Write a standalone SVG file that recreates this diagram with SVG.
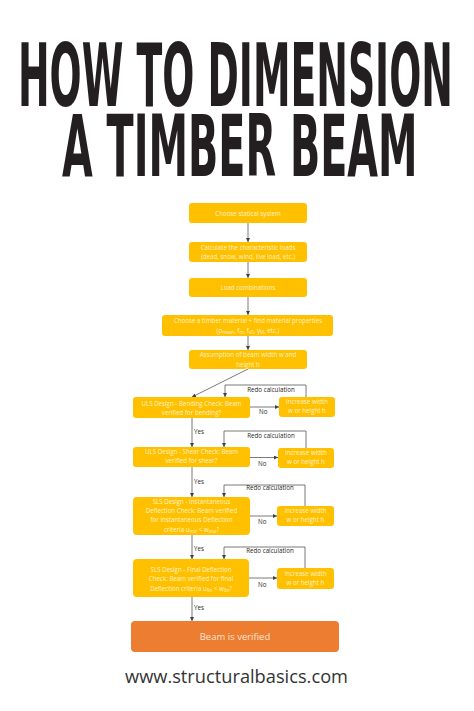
<svg xmlns="http://www.w3.org/2000/svg" width="474" height="711" viewBox="0 0 474 711">
<style>
.box{fill:#FFC000;}
.bt{font-family:"Open Sans","Liberation Sans",sans-serif;font-size:6.2px;fill:#FFF2CC;text-anchor:middle;}
.lbl{font-family:"Open Sans","Liberation Sans",sans-serif;font-size:6.2px;fill:#262626;}
.ln{fill:none;stroke:#595959;stroke-width:0.8;}
.title{font-family:"DejaVu Sans","Liberation Sans",sans-serif;font-weight:bold;fill:#231F20;}
</style>
<defs>
<marker id="ah" viewBox="0 0 6 6" refX="6" refY="3" markerWidth="4" markerHeight="4" orient="auto" markerUnits="userSpaceOnUse">
<path d="M0,0 L6,3 L0,6 z" fill="#404040"/>
</marker>
</defs>
<rect width="474" height="711" fill="#FFFFFF"/>
<g id="title">
<text class="title" transform="translate(18,106) scale(0.434,1)" x="0" y="0" font-size="87" textLength="1002" lengthAdjust="spacingAndGlyphs">HOW TO DIMENSION</text>
<text class="title" transform="translate(62,175.5) scale(0.468,1)" x="0" y="0" font-size="85" textLength="760" lengthAdjust="spacingAndGlyphs">A TIMBER BEAM</text>
</g>
<g id="connectors">
<line class="ln" x1="248" y1="223" x2="248" y2="242" marker-end="url(#ah)"/>
<line class="ln" x1="248" y1="262" x2="248" y2="278" marker-end="url(#ah)"/>
<line class="ln" x1="248" y1="297" x2="248" y2="315" marker-end="url(#ah)"/>
<line class="ln" x1="248" y1="336" x2="248" y2="350" marker-end="url(#ah)"/>
<line class="ln" x1="248" y1="369" x2="192" y2="397" marker-end="url(#ah)"/>
<line class="ln" x1="192" y1="418" x2="192" y2="447" marker-end="url(#ah)"/>
<line class="ln" x1="192" y1="467" x2="192" y2="497" marker-end="url(#ah)"/>
<line class="ln" x1="192" y1="535" x2="192" y2="559" marker-end="url(#ah)"/>
<line class="ln" x1="192" y1="597" x2="192" y2="621" marker-end="url(#ah)"/>
<line class="ln" x1="250" y1="407" x2="279" y2="407" marker-end="url(#ah)"/>
<line class="ln" x1="250" y1="457.5" x2="278" y2="457.5" marker-end="url(#ah)"/>
<line class="ln" x1="250" y1="516" x2="277" y2="516" marker-end="url(#ah)"/>
<line class="ln" x1="249" y1="578" x2="277" y2="578" marker-end="url(#ah)"/>
<polyline class="ln" points="306,397 306,385 225,385 225,397" marker-end="url(#ah)"/>
<polyline class="ln" points="306,448 306,431 224,431 224,447" marker-end="url(#ah)"/>
<polyline class="ln" points="305,506 305,485 224,485 224,497" marker-end="url(#ah)"/>
<polyline class="ln" points="305,568 305,547 224,547 224,559" marker-end="url(#ah)"/>
<text class="lbl" x="271" y="391.5" text-anchor="middle">Redo calculation</text>
<text class="lbl" x="271" y="437.5" text-anchor="middle">Redo calculation</text>
<text class="lbl" x="270" y="490" text-anchor="middle">Redo calculation</text>
<text class="lbl" x="270" y="552.5" text-anchor="middle">Redo calculation</text>
<text class="lbl" x="259" y="414">No</text>
<text class="lbl" x="258" y="465.5">No</text>
<text class="lbl" x="258" y="523.5">No</text>
<text class="lbl" x="258" y="586.5">No</text>
<text class="lbl" x="194" y="434">Yes</text>
<text class="lbl" x="194" y="483.5">Yes</text>
<text class="lbl" x="194" y="550.5">Yes</text>
<text class="lbl" x="194" y="609.5">Yes</text>
</g>
<g id="n1"><rect class="box" x="189" y="203" width="118" height="20" rx="3"/>
<text class="bt" x="248" y="215.5">Choose statical system</text></g>
<g id="n2"><rect class="box" x="189" y="242" width="118" height="20" rx="3"/>
<text class="bt" x="248" y="249.5">Calculate the characteristic loads</text>
<text class="bt" x="248" y="258.5">(dead, snow, wind, live load, etc.)</text></g>
<g id="n3"><rect class="box" x="189" y="278" width="118" height="19" rx="3"/>
<text class="bt" x="248" y="289.5">Load combinations</text></g>
<g id="n4"><rect class="box" x="162" y="315" width="171" height="21" rx="3"/>
<text class="bt" x="248" y="323">Choose a timber material + find material properties</text>
<text class="bt" x="248" y="332.5">(ρ<tspan font-size="4.5" dy="1">mean</tspan><tspan dy="-1">, f</tspan><tspan font-size="4.5" dy="1">m</tspan><tspan dy="-1">, f</tspan><tspan font-size="4.5" dy="1">v0</tspan><tspan dy="-1">, γ</tspan><tspan font-size="4.5" dy="1">M</tspan><tspan dy="-1">, etc.)</tspan></text></g>
<g id="n5"><rect class="box" x="189" y="350" width="118" height="19" rx="3"/>
<text class="bt" x="248" y="357.3">Assumption of beam width w and</text>
<text class="bt" x="248" y="367">height h</text></g>
<g id="n6"><rect class="box" x="133" y="397" width="117" height="21" rx="3"/>
<text class="bt" x="191.5" y="405.5">ULS Design -  Bending Check: Beam</text>
<text class="bt" x="191.5" y="415">verified for bending?</text></g>
<g id="n7"><rect class="box" x="279" y="397" width="56" height="20" rx="3"/>
<text class="bt" x="307" y="404">Increase width</text>
<text class="bt" x="307" y="413">w or height h</text></g>
<g id="n8"><rect class="box" x="133" y="447" width="117" height="20" rx="3"/>
<text class="bt" x="191.5" y="454">ULS Design -  Shear Check: Beam</text>
<text class="bt" x="191.5" y="463.3">verified for shear?</text></g>
<g id="n9"><rect class="box" x="278" y="448" width="56" height="20" rx="3"/>
<text class="bt" x="306" y="455">Increase width</text>
<text class="bt" x="306" y="464">w or height h</text></g>
<g id="n10"><rect class="box" x="133" y="497" width="117" height="38" rx="4"/>
<text class="bt" x="191.5" y="504">SLS Design -  Instantaneous</text>
<text class="bt" x="191.5" y="513.3">Deflection Check: Beam verified</text>
<text class="bt" x="191.5" y="522.3">for instantaneous Deflection</text>
<text class="bt" x="191.5" y="531.5">criteria u<tspan font-size="4.5" dy="1">inst</tspan><tspan dy="-1"> &lt; w</tspan><tspan font-size="4.5" dy="1">inst</tspan><tspan dy="-1">?</tspan></text></g>
<g id="n11"><rect class="box" x="277" y="506" width="57" height="20" rx="3"/>
<text class="bt" x="305.5" y="513">Increase width</text>
<text class="bt" x="305.5" y="522">w or height h</text></g>
<g id="n12"><rect class="box" x="133" y="559" width="116" height="38" rx="4"/>
<text class="bt" x="191" y="572.3">SLS Design -  Final Deflection</text>
<text class="bt" x="191" y="581.3">Check: Beam verified for final</text>
<text class="bt" x="191" y="590.5">Deflection criteria u<tspan font-size="4.5" dy="1">fin</tspan><tspan dy="-1"> &lt; w</tspan><tspan font-size="4.5" dy="1">fin</tspan><tspan dy="-1">?</tspan></text></g>
<g id="n13"><rect class="box" x="277" y="568" width="57" height="21" rx="3"/>
<text class="bt" x="305.5" y="575.5">Increase width</text>
<text class="bt" x="305.5" y="584.5">w or height h</text></g>
<g id="n14"><rect x="131" y="621" width="208" height="31" rx="4" fill="#ED7D31"/>
<text x="235" y="639.5" font-family="Open Sans, Liberation Sans, sans-serif" font-size="9.5" fill="#FBE5D6" text-anchor="middle">Beam is verified</text></g>
<g id="footer">
<text x="125" y="683" font-family="Open Sans, Liberation Sans, sans-serif" font-size="18" fill="#333333" textLength="223" lengthAdjust="spacingAndGlyphs">www.structuralbasics.com</text>
</g>
</svg>
